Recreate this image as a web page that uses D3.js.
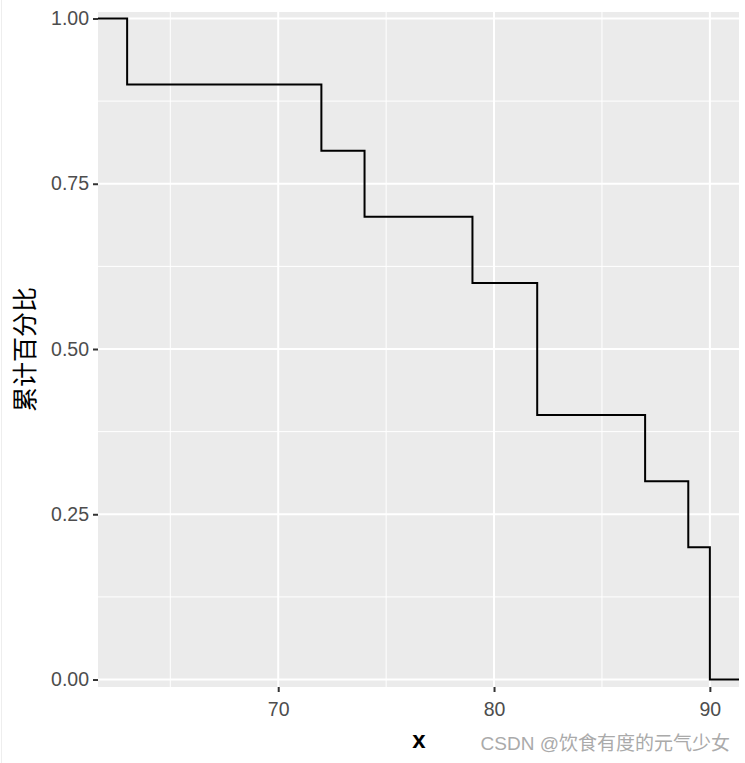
<!DOCTYPE html>
<html><head><meta charset="utf-8">
<script src="https://cdn.jsdelivr.net/npm/d3@7"></script>
<style>body{margin:0;background:#fff}svg{display:block}</style>
</head><body>
<svg id="c" width="745" height="763"></svg>
<script>
const values = [63, 72, 74, 79, 82, 82, 87, 89, 90, 90];
const xTicks = [70, 80, 90];
const xMinor = [65, 75, 85];
const yTicks = [0, 0.25, 0.5, 0.75, 1];
const yMinor = [0.125, 0.375, 0.625, 0.875];
const xTitle = "x";
const yTitle = "累计百分比";
const watermark = "CSDN @饮食有度的元气少女";

const svg = d3.select("#c");
const L = 98, R = 739, T = 12, B = 687;
const ext = d3.extent(values), span = ext[1] - ext[0];
const x = d3.scaleLinear().domain([ext[0] - span * 0.05, ext[1] + span * 0.05]).range([L, R]);
const y = d3.scaleLinear().domain([-0.0113, 1.0098]).range([B, T]);

svg.append("line").attr("x1", 1.5).attr("x2", 1.5).attr("y1", 0).attr("y2", 763).attr("stroke", "#eeeeee").attr("stroke-width", 1);

svg.append("rect").attr("x", L).attr("y", T).attr("width", R - L).attr("height", B - T).attr("fill", "#EBEBEB");
const g = svg.append("g");
g.selectAll(".ym").data(yMinor).join("line").attr("x1", L).attr("x2", R).attr("y1", d => y(d)).attr("y2", d => y(d)).attr("stroke", "#fff").attr("stroke-width", 1);
g.selectAll(".xm").data(xMinor).join("line").attr("y1", T).attr("y2", B).attr("x1", d => x(d)).attr("x2", d => x(d)).attr("stroke", "#fff").attr("stroke-width", 1);
g.selectAll(".yM").data(yTicks).join("line").attr("x1", L).attr("x2", R).attr("y1", d => y(d)).attr("y2", d => y(d)).attr("stroke", "#fff").attr("stroke-width", 2);
g.selectAll(".xM").data(xTicks).join("line").attr("y1", T).attr("y2", B).attr("x1", d => x(d)).attr("x2", d => x(d)).attr("stroke", "#fff").attr("stroke-width", 2);

// survival steps: 1 - ecdf
const uniq = Array.from(new Set(values)).sort((a, b) => a - b);
const n = values.length;
const pts = [[x.domain()[0], 1]];
uniq.forEach(u => pts.push([u, values.filter(v => v > u).length / n]));
pts.push([x.domain()[1], 0]);
const line = d3.line().x(d => x(d[0])).y(d => y(d[1])).curve(d3.curveStepAfter);
svg.append("path").attr("d", line(pts)).attr("fill", "none").attr("stroke", "#000").attr("stroke-width", 2);

const ax = svg.append("g").attr("transform", `translate(0,${B})`)
  .call(d3.axisBottom(x).tickValues(xTicks).tickSize(5).tickPadding(6).tickFormat(d3.format("d")));
const ay = svg.append("g").attr("transform", `translate(${L},0)`)
  .call(d3.axisLeft(y).tickValues(yTicks).tickSize(5).tickPadding(4).tickFormat(d3.format(".2f")));
[ax, ay].forEach(a => {
  a.select(".domain").remove();
  a.selectAll(".tick line").attr("stroke", "#333").attr("stroke-width", 2);
  a.selectAll(".tick text").attr("fill", "#4D4D4D").style("font-family", "'Liberation Sans', Arial, sans-serif").style("font-size", "19.5px");
});
ax.selectAll(".tick text").attr("dy", "0.9em");

svg.append("text").attr("x", 419).attr("y", 748).attr("text-anchor", "middle")
  .style("font-family", "'Liberation Sans', Arial, sans-serif").style("font-size", "24px").style("font-weight", "bold").attr("fill", "#000").text(xTitle);
svg.append("text").attr("transform", `translate(34,${(T + B) / 2}) rotate(-90)`).attr("text-anchor", "middle")
  .style("font-family", "'Noto Sans CJK SC', sans-serif").style("font-size", "25px").attr("fill", "#000").text(yTitle);
svg.append("text").attr("x", 730).attr("y", 750).attr("text-anchor", "end")
  .style("font-family", "'Liberation Sans', 'Noto Sans CJK SC', sans-serif").style("font-size", "19px").attr("fill", "#aaaaaa").text(watermark);
</script>
</body></html>
